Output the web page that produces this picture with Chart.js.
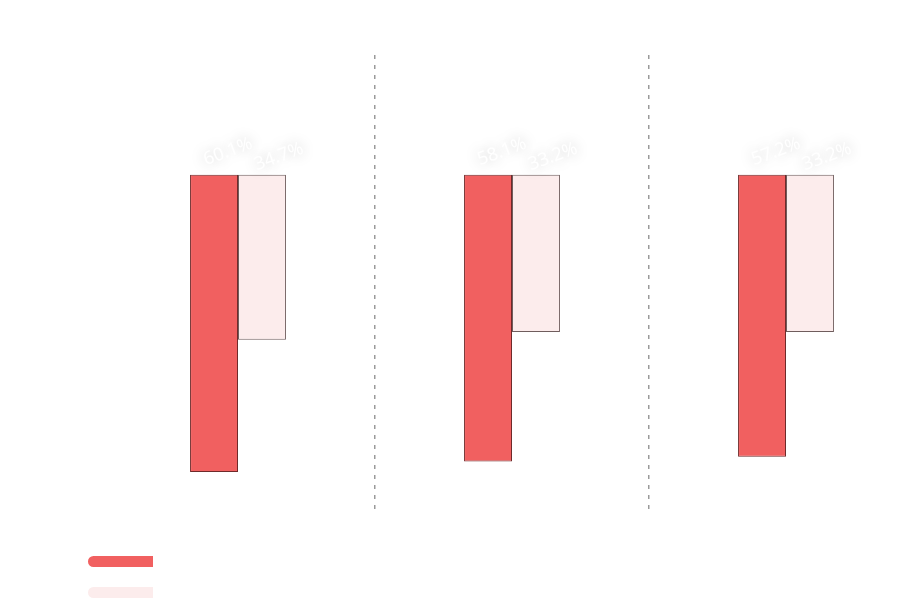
<!DOCTYPE html>
<html>
<head>
<meta charset="utf-8">
<script src="https://cdn.jsdelivr.net/npm/chart.js@4.4.0/dist/chart.umd.min.js"></script>
<style>
    html, body { margin: 0; padding: 0; background: #fff; }
    #wrap { position: relative; width: 924px; height: 606px; }
    #legend { position: absolute; left: 88px; top: 551px; margin: 0; padding: 0; list-style: none;
              font-family: "Open Sans", sans-serif; font-size: 11px; color: #fff; }
    #legend li { display: flex; align-items: center; height: 21px; margin-bottom: 10px; }
    #legend .box { width: 65px; height: 11px; border-radius: 5.5px 0 0 5.5px; margin-right: 6px; }
</style>
</head>
<body>
<div id="wrap">
    <canvas id="chart" width="924" height="606"></canvas>
    <ul id="legend"></ul>
</div>
<script>
// data
var groups = ["Group 1", "Group 2", "Group 3"];
var seriesNames = ["Series 1", "Series 2"];
var seriesA = [60.1, 58.1, 57.2];
var seriesB = [34.7, 33.2, 33.2];

var redFill = "#f16060";
var pinkFill = "#fcecec";

// white labels with a soft shadow, tilted, above each bar
var tiltLabels = {
    id: "tiltLabels",
    afterDatasetsDraw: function(chart) {
        var ctx = chart.ctx;
        var shifts = [[14, -23], [17, -18]];
        chart.data.datasets.forEach(function(ds, di) {
            var meta = chart.getDatasetMeta(di);
            meta.data.forEach(function(bar, i) {
                var top = Math.min(bar.y, bar.base);
                ctx.save();
                ctx.translate(bar.x + shifts[di][0], top + shifts[di][1]);
                ctx.rotate(-20 * Math.PI / 180);
                ctx.font = "18px 'Open Sans'";
                ctx.textAlign = "center";
                ctx.textBaseline = "middle";
                ctx.shadowColor = "rgba(0,0,0,0.28)";
                ctx.shadowBlur = 14;
                ctx.fillStyle = "#fff";
                ctx.fillText(ds.data[i].toFixed(1) + "%", 0, 0);
                ctx.restore();
            });
        });
    }
};

// legend as html under the chart
var htmlLegend = {
    id: "htmlLegend",
    afterUpdate: function(chart) {
        var ul = document.getElementById("legend");
        ul.innerHTML = "";
        chart.options.plugins.legend.labels.generateLabels(chart).forEach(function(item) {
            var li = document.createElement("li");
            var box = document.createElement("span");
            box.className = "box";
            box.style.background = chart.data.datasets[item.datasetIndex].backgroundColor;
            var txt = document.createElement("span");
            txt.textContent = item.text;
            li.appendChild(box);
            li.appendChild(txt);
            ul.appendChild(li);
        });
    }
};

var chart = new Chart(document.getElementById("chart"), {
    type: "bar",
    data: {
        labels: groups,
        datasets: [
            {
                label: seriesNames[0],
                data: seriesA,
                base: 3,
                backgroundColor: redFill,
                borderColor: "#6e2a2a",
                borderWidth: 1,
                borderSkipped: false
            },
            {
                label: seriesNames[1],
                data: seriesB,
                base: 3,
                backgroundColor: pinkFill,
                borderColor: "#6f5d5d",
                borderWidth: 1,
                borderSkipped: false
            }
        ]
    },
    options: {
        responsive: false,
        animation: false,
        layout: { padding: { top: 55, left: 101, right: 1, bottom: 93 } },
        datasets: { bar: { categoryPercentage: 0.35, barPercentage: 1 } },
        scales: {
            x: {
                display: true,
                offset: true,
                ticks: { display: false },
                grid: {
                    offset: true,
                    drawTicks: false,
                    lineWidth: 1.5,
                    color: function(c) {
                        return (c.index > 0 && c.index < groups.length) ? "#9a9a9a" : "rgba(0,0,0,0)";
                    }
                },
                border: { display: false, dash: [4, 6] },
                afterFit: function(s) { s.height = 0; }
            },
            y: {
                display: false,
                reverse: true,
                min: -20,
                max: 68
            }
        },
        plugins: {
            legend: { display: false },
            tooltip: { enabled: false }
        }
    },
    plugins: [tiltLabels, htmlLegend]
});
</script>
</body>
</html>
